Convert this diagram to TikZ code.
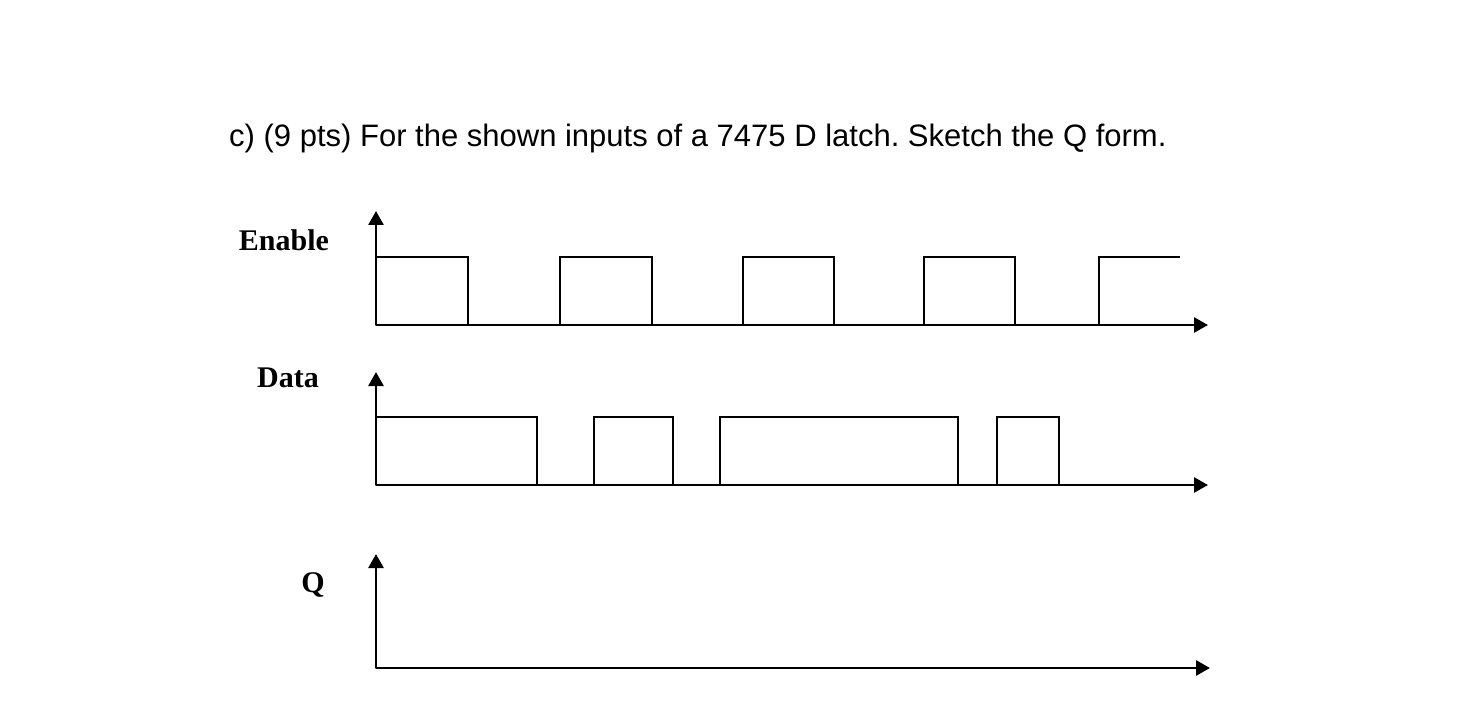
\documentclass[tikz,border=0pt]{standalone}
\usepackage{fontspec}
\setmainfont{Liberation Serif}
\newfontfamily\titlefont{Liberation Sans}
\usetikzlibrary{arrows.meta}

\begin{document}
\frenchspacing
\begin{tikzpicture}[x=1pt,y=-1pt,
  axis/.style={line width=2.7pt,line join=round,
    {Triangle[length=14pt,width=15pt]}-{Triangle[length=14pt,width=15pt]}},
  wave/.style={line width=1.8pt,line join=miter},
  sig/.style={font=\bfseries\fontsize{30}{34}\selectfont}]
\useasboundingbox (0,0) rectangle (1476,722);
\node[anchor=west,inner sep=0pt,font=\titlefont\fontsize{31}{36}\selectfont] (title) at (229,138)
  {c) (9 pts) For the shown inputs of a 7475 D latch. Sketch the Q form.};

% enable
\node[sig] (enable) at (284,240) {Enable};
\coordinate (e0) at (376,325);
\draw[wave] (e0) -- (376,257) -- (468,257) -- (468,325)
  -- (560,325) -- (560,257) -- (652,257) -- (652,325)
  -- (743,325) -- (743,257) -- (834,257) -- (834,325)
  -- (924,325) -- (924,257) -- (1015,257) -- (1015,325)
  -- (1099,325) -- (1099,257) -- (1180,257);
\draw[axis] (376,211) -- (e0) -- (1208,325);

% data
\node[sig] (data) at (288,378) {Data};
\coordinate (d0) at (376,485);
\draw[wave] (d0) -- (376,417) -- (537,417) -- (537,485)
  -- (594,485) -- (594,417) -- (673,417) -- (673,485)
  -- (720,485) -- (720,417) -- (958,417) -- (958,485)
  -- (997,485) -- (997,417) -- (1059,417) -- (1059,485);
\draw[axis] (376,372) -- (d0) -- (1208,485);

% q
\node[sig] (q) at (313,585) {Q};
\coordinate (q0) at (376,668);
\draw[axis] (376,554) -- (q0) -- (1210,668);
\end{tikzpicture}
\end{document}
